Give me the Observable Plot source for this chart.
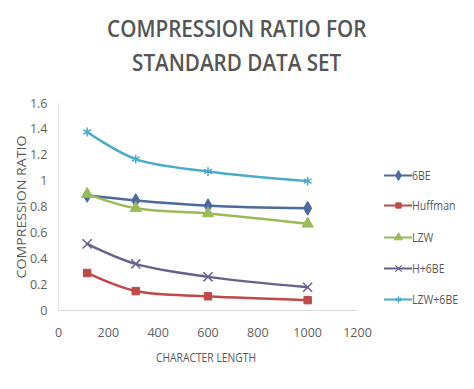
<!DOCTYPE html>
<html><head><meta charset="utf-8">
<script src="https://cdn.jsdelivr.net/npm/d3@7"></script>
<script src="https://cdn.jsdelivr.net/npm/@observablehq/plot@0.6"></script>
<style>
body{margin:0;background:#fff;}
#wrap{position:relative;width:474px;height:389px;overflow:hidden;background:#fff;}
#title{position:absolute;left:0;top:11px;width:474px;text-align:center;font-family:"Open Sans";font-weight:600;font-size:24px;line-height:34px;color:#555;}
#title span{display:inline-block;transform:scaleX(0.86);transform-origin:center;white-space:nowrap;}
#legend{position:absolute;left:384px;top:165px;font-family:"Open Sans",sans-serif;font-size:12px;color:#595959;}
.item{position:absolute;left:0;height:20px;display:flex;align-items:center;white-space:nowrap;}
.item svg{max-width:none !important;flex:none;}
.item span{display:inline-block;transform:scaleX(0.88);transform-origin:left center;}
#chart{position:absolute;left:0;top:0;}
#chart svg{max-width:none;}
</style></head>
<body><div id="wrap"><div id="title"><span>COMPRESSION RATIO FOR</span><br><span>STANDARD DATA SET</span></div><div id="chart"></div><div id="legend"></div></div>
<script>
const charLength = [115, 310, 600, 1000];
const seriesNames = ["6BE", "Huffman", "LZW", "H+6BE", "LZW+6BE"];
const v6BE = [0.89, 0.85, 0.81, 0.79];
const vHuffman = [0.29, 0.15, 0.11, 0.08];
const vLZW = [0.90, 0.79, 0.75, 0.67];
const vH6BE = [0.515, 0.36, 0.26, 0.18];
const vLZW6BE = [1.38, 1.17, 1.075, 1.0];
const xTicks = [0, 200, 400, 600, 800, 1000, 1200];
const yTicks = [0, 0.2, 0.4, 0.6, 0.8, 1, 1.2, 1.4, 1.6];

const colors = {"6BE":"#4a6b9b","Huffman":"#be4b48","LZW":"#9bbb59","H+6BE":"#6b5f8c","LZW+6BE":"#4bacc6"};
const symbols = {"6BE":"diamond","Huffman":"square","LZW":"triangle","H+6BE":"times","LZW+6BE":"asterisk"};
const filled = {"6BE":true,"Huffman":true,"LZW":true,"H+6BE":false,"LZW+6BE":false};
const values = {"6BE":v6BE,"Huffman":vHuffman,"LZW":vLZW,"H+6BE":vH6BE,"LZW+6BE":vLZW6BE};

const data = seriesNames.flatMap(s => charLength.map((x,i)=>({series:s, x, y: values[s][i]})));
const fmt = d => String(+d.toFixed(1));
const FONT = "Open Sans, sans-serif";

const marks = [
  Plot.ruleY([0], {stroke:"#d9d9d9", strokeWidth:1}),
  Plot.ruleX([0], {stroke:"#e3e3e3", strokeWidth:1}),
  Plot.axisX({ticks:xTicks, tickSize:0, tickPadding:18, tickFormat:d=>String(d), fontSize:12.5, fill:"#5f5f5f", label:null, fontFamily:FONT}),
  Plot.axisY({ticks:yTicks, tickSize:0, tickPadding:11, tickFormat:fmt, fontSize:12.5, fill:"#5f5f5f", label:null, fontFamily:FONT}),
  Plot.text(["CHARACTER LENGTH"], {frameAnchor:"bottom", textAnchor:"middle", dx:-2, dy:47, text:d=>d, fontSize:13, fill:"#595959", fontFamily:FONT, lineAnchor:"middle"}),
  Plot.text(["COMPRESSION RATIO"], {frameAnchor:"left", textAnchor:"middle", lineAnchor:"middle", dx:-36, dy:0, rotate:-90, text:d=>d, fontSize:12, fill:"#595959", fontFamily:FONT})
];
for (const s of seriesNames) {
  const d = data.filter(r=>r.series===s);
  marks.push(Plot.line(d, {x:"x", y:"y", stroke:colors[s], strokeWidth:2.5, curve:"catmull-rom"}));
  marks.push(Plot.dot(d, {x:"x", y:"y", symbol:()=>symbols[s], r:4.2, fill: filled[s]?colors[s]:"none", stroke:colors[s], strokeWidth: filled[s]?1:1.5}));
}

const plot = Plot.plot({
  width:474, height:389,
  marginLeft:58, marginRight:117, marginTop:103, marginBottom:79,
  x:{domain:[0,1200]},
  y:{domain:[0,1.6]},
  symbol:{type:"identity"},
  style:{background:"transparent", fontFamily:FONT},
  marks
});
document.getElementById("chart").appendChild(plot);
plot.querySelectorAll("text").forEach(t=>{
  if (t.textContent==="CHARACTER LENGTH") { t.setAttribute("textLength","100"); t.setAttribute("lengthAdjust","spacingAndGlyphs"); }
  if (t.textContent==="COMPRESSION RATIO") { t.setAttribute("textLength","143"); t.setAttribute("lengthAdjust","spacingAndGlyphs"); }
});

const legend = document.getElementById("legend");
const ys = [0, 30, 62, 93, 124];
seriesNames.forEach((s,i)=>{
  const item = document.createElement("div");
  item.className = "item";
  item.style.top = ys[i] + "px";
  const sw = Plot.plot({
    width:28, height:20, margin:0, axis:null,
    x:{domain:[0,1]}, y:{domain:[0,1]},
    symbol:{type:"identity"},
    style:{background:"transparent"},
    marks:[
      Plot.line([{a:0,b:0.5},{a:1,b:0.5}], {x:"a", y:"b", stroke:colors[s], strokeWidth:2}),
      Plot.dot([{a:0.5,b:0.5}], {x:"a", y:"b", symbol:()=>symbols[s], r:3, fill: filled[s]?colors[s]:"none", stroke:colors[s], strokeWidth:filled[s]?1:1.2})
    ]
  });
  sw.style.width = "28px"; sw.style.height = "20px"; sw.style.maxWidth = "none";
  item.appendChild(sw);
  const t = document.createElement("span");
  t.textContent = s;
  item.appendChild(t);
  legend.appendChild(item);
});
</script></body></html>
